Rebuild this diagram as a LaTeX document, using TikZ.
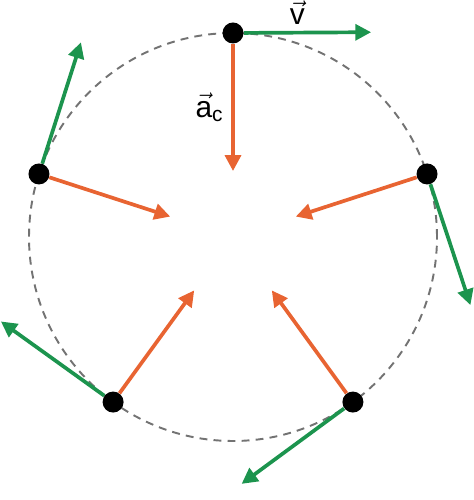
\documentclass[tikz,border=0pt]{standalone}
\usepackage{amsmath}
\usepackage{fontspec}
\setmainfont{Liberation Sans}
\usepackage{tikz}
\usetikzlibrary{arrows.meta}

\definecolor{accorange}{RGB}{232,100,50}
\definecolor{velgreen}{RGB}{28,148,78}

\tikzset{
  orbit/.style={draw=black!55, line width=1.1pt, dash pattern=on 4.5pt off 3.5pt},
  ball/.style={circle, fill=black, inner sep=0pt, minimum size=0.42cm},
  accel/.style={draw=accorange, line width=2.1pt, arrows={-Triangle[length=9pt, width=9pt]}},
  vel/.style={draw=velgreen, line width=2.1pt, arrows={-Triangle[length=9pt, width=9pt]}},
  lbl/.style={font=\fontsize{17}{19}\selectfont}
}

\begin{document}
\begin{tikzpicture}
\useasboundingbox (-4.66,-5.26) rectangle (4.82,4.74);
\draw[orbit] (0, 0) circle (4.08);
% balls on the path
\node[ball] (b1) at (90:4.08) {};
\node[ball] (b2) at (162:4.08) {};
\node[ball] (b3) at (234:4.08) {};
\node[ball] (b4) at (306:4.08) {};
\node[ball] (b5) at (18:4.08) {};
% tips of the acceleration arrows
\coordinate (a1) at (90:1.32);
\coordinate (a2) at (162:1.32);
\coordinate (a3) at (234:1.32);
\coordinate (a4) at (306:1.32);
\coordinate (a5) at (18:1.32);
% tips of the velocity arrows
\coordinate (v1) at (56:4.94);
\coordinate (v2) at (128:4.94);
\coordinate (v3) at (200:4.94);
\coordinate (v4) at (272:4.94);
\coordinate (v5) at (344:4.94);
\draw[accel] (b1) -- (a1) node[lbl, pos=0.5, left=1pt] {$\vec{\text{a}}_{\text{c}}$};
\draw[accel] (b2) -- (a2);
\draw[accel] (b3) -- (a3);
\draw[accel] (b4) -- (a4);
\draw[accel] (b5) -- (a5);
\draw[vel] (b1) -- (v1) node[lbl, pos=0.42, above=0pt] {$\vec{\text{v}}$};
\draw[vel] (b2) -- (v2);
\draw[vel] (b3) -- (v3);
\draw[vel] (b4) -- (v4);
\draw[vel] (b5) -- (v5);
\end{tikzpicture}
\end{document}
